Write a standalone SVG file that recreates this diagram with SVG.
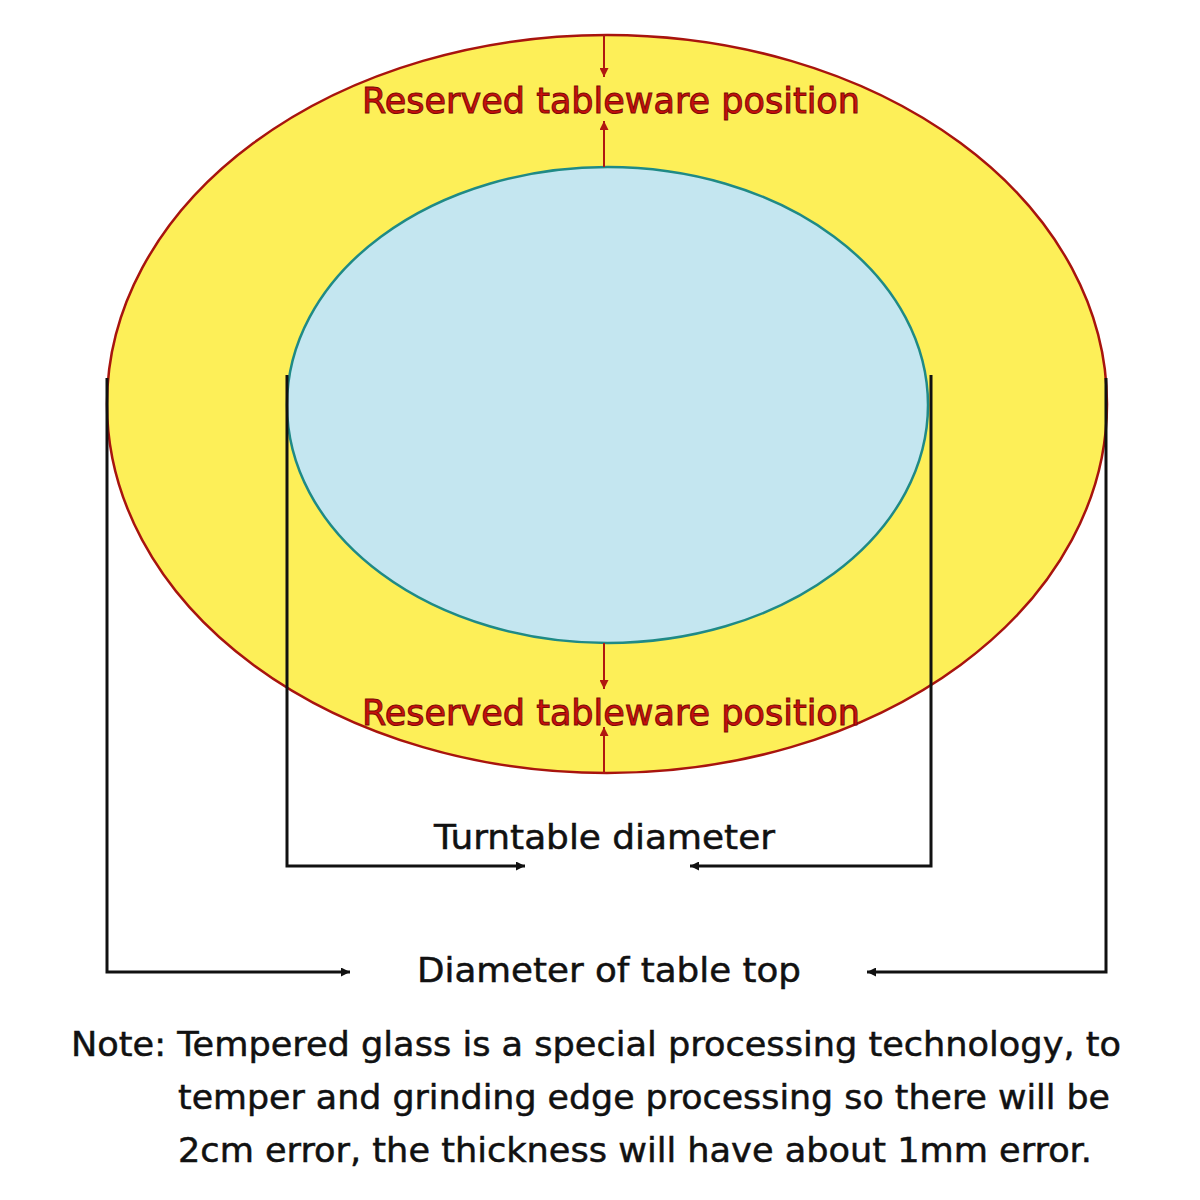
<svg xmlns="http://www.w3.org/2000/svg" width="1200" height="1200" viewBox="0 0 1200 1200">
<style>
.red{font-family:"Comic Sans MS","DejaVu Sans","Liberation Sans",sans-serif;font-size:36px;fill:#c8100c;stroke:#7a0a06;stroke-width:1px}
.blk{font-family:"Comic Sans MS","DejaVu Sans","Liberation Sans",sans-serif;font-size:34px;fill:#111;stroke:#111;stroke-width:0.5px}
.dim{fill:none;stroke:#111;stroke-width:3}
.rl{fill:none;stroke:#b01810;stroke-width:2}
</style>
<defs>
<marker id="ar" viewBox="0 0 10 10" refX="10" refY="5" markerWidth="14" markerHeight="9" markerUnits="userSpaceOnUse" orient="auto"><path d="M0,0 L10,5 L0,10 Z" fill="#b01810"/></marker>
<marker id="abk" viewBox="0 0 10 10" refX="10" refY="5" markerWidth="22" markerHeight="9" markerUnits="userSpaceOnUse" orient="auto"><path d="M0,0 L10,5 L0,10 Z" fill="#111"/></marker>
</defs>
<rect width="1200" height="1200" fill="#fff"/>
<g id="table-top">
<ellipse cx="607" cy="404" rx="500" ry="369" fill="#fdef58" stroke="#a8140e" stroke-width="2.5"/>
</g>
<g id="turntable">
<ellipse cx="607.5" cy="405" rx="320.5" ry="238" fill="#c4e6f0" stroke="#1f8a86" stroke-width="2.5"/>
</g>
<g id="connectors">
<line class="rl" x1="604" y1="35" x2="604" y2="77" marker-end="url(#ar)"/>
<line class="rl" x1="604" y1="167" x2="604" y2="121" marker-end="url(#ar)"/>
<line class="rl" x1="604" y1="643" x2="604" y2="689" marker-end="url(#ar)"/>
<line class="rl" x1="604" y1="773" x2="604" y2="727" marker-end="url(#ar)"/>
<polyline class="dim" points="287,375 287,866 525,866" marker-end="url(#abk)"/>
<polyline class="dim" points="931,375 931,866 690,866" marker-end="url(#abk)"/>
<polyline class="dim" points="107,378 107,972 350,972" marker-end="url(#abk)"/>
<polyline class="dim" points="1106,378 1106,972 867,972" marker-end="url(#abk)"/>
</g>
<g id="labels">
<text class="red" x="362" y="113" textLength="498" lengthAdjust="spacingAndGlyphs">Reserved tableware position</text>
<text class="red" x="362" y="725" textLength="498" lengthAdjust="spacingAndGlyphs">Reserved tableware position</text>
<text class="blk" x="434" y="849" textLength="341" lengthAdjust="spacingAndGlyphs">Turntable diameter</text>
<text class="blk" x="417" y="982" textLength="384" lengthAdjust="spacingAndGlyphs">Diameter of table top</text>
</g>
<g id="note">
<text class="blk" x="71" y="1056" textLength="1050" lengthAdjust="spacingAndGlyphs">Note: Tempered glass is a special processing technology, to</text>
<text class="blk" x="178" y="1109" textLength="932" lengthAdjust="spacingAndGlyphs">temper and grinding edge processing so there will be</text>
<text class="blk" x="178" y="1162" textLength="914" lengthAdjust="spacingAndGlyphs">2cm error, the thickness will have about 1mm error.</text>
</g>
</svg>
